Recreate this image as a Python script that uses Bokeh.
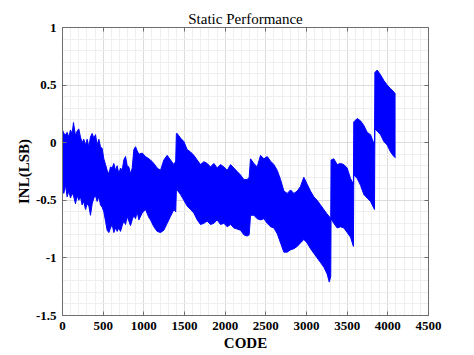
from bokeh.plotting import figure
from bokeh.models import FixedTicker, LinearAxis, Range1d
from bokeh.embed import file_html
from bokeh.resources import INLINE

# ---- data (upper / lower envelope of the INL trace) ----
codes = [0, 16, 37, 57, 78, 98, 119, 135, 160, 180, 200, 221, 241, 262, 283, 303,
         324, 344, 365, 385, 406, 426, 447, 467, 488, 508, 529, 549, 570, 590, 611,
         631, 652, 672, 693, 713, 734, 754, 775, 795, 816, 836, 857, 877, 898, 918, 939,
         980, 1021, 1062, 1082, 1123, 1164, 1205, 1246, 1287, 1328, 1369, 1392,
         1400, 1410, 1451, 1492, 1533, 1574, 1615, 1656, 1697, 1738, 1779, 1820,
         1861, 1902, 1943, 1984, 2025, 2066, 2107, 2148, 2189, 2230, 2271, 2295,
         2312, 2353, 2394, 2435, 2476, 2517, 2558, 2599, 2640, 2681, 2722, 2763,
         2804, 2845, 2886, 2926, 2967, 3008, 3049, 3090, 3131, 3172, 3213, 3254,
         3280, 3298,
         3302, 3336, 3377, 3418, 3459, 3500, 3541, 3577,
         3581, 3623, 3664, 3705, 3746, 3787, 3836,
         3841, 3869, 3910, 3951, 3992, 4033, 4074, 4095]
inl_upper = [0.11, 0.08, 0.07, 0.09, 0.05, 0.11, 0.08, 0.175, 0.06, 0.10, 0.12, 0.05, 0.00, 0.03, -0.02, 0.03,
             -0.035, 0.05, 0.08, 0.04, 0.07, -0.02, 0.03, -0.035, -0.05, -0.14, -0.19, -0.24, -0.27, -0.21, -0.22,
             -0.18, -0.24, -0.20, -0.27, -0.22, -0.24, -0.15, -0.12, -0.20, -0.21, -0.27, -0.22, -0.06, -0.035, -0.07, -0.10,
             -0.09, -0.12, -0.14, -0.15, -0.18, -0.22, -0.24, -0.15, -0.11, -0.15, -0.19, -0.16,
             0.08, 0.08, 0.04, 0.01, -0.06, -0.08, -0.11, -0.15, -0.19, -0.165, -0.18, -0.21,
             -0.18, -0.22, -0.19, -0.21, -0.24, -0.19, -0.22, -0.25, -0.28, -0.32, -0.32, -0.30,
             -0.14, -0.18, -0.21, -0.11, -0.14, -0.12, -0.16, -0.19, -0.24, -0.32, -0.42, -0.44,
             -0.41, -0.44, -0.42, -0.38, -0.30, -0.36, -0.42, -0.47, -0.50, -0.54, -0.58, -0.62,
             -0.64, -0.66,
             -0.15, -0.14, -0.19, -0.18, -0.19, -0.22, -0.31, -0.36,
             0.18, 0.21, 0.19, 0.15, 0.09, 0.07, -0.02,
             0.61, 0.63, 0.59, 0.54, 0.50, 0.47, 0.44, 0.42]
inl_lower = [-0.40, -0.44, -0.37, -0.47, -0.42, -0.48, -0.44, -0.46, -0.53, -0.46, -0.50, -0.47, -0.54, -0.51, -0.58, -0.53,
             -0.55, -0.63, -0.53, -0.48, -0.46, -0.51, -0.47, -0.54, -0.56, -0.60, -0.68, -0.76, -0.78, -0.74, -0.71,
             -0.78, -0.74, -0.77, -0.74, -0.77, -0.72, -0.68, -0.71, -0.64, -0.68, -0.72, -0.67, -0.63, -0.66, -0.60, -0.67,
             -0.61, -0.58, -0.65, -0.67, -0.73, -0.77, -0.78, -0.76, -0.70, -0.64, -0.58, -0.60,
             -0.42, -0.41, -0.45, -0.50, -0.55, -0.58, -0.61, -0.67, -0.71, -0.70, -0.68, -0.71,
             -0.70, -0.67, -0.71, -0.70, -0.73, -0.71, -0.74, -0.75, -0.76, -0.80, -0.81, -0.80,
             -0.63, -0.63, -0.66, -0.67, -0.66, -0.70, -0.73, -0.74, -0.79, -0.87, -0.95, -0.95,
             -0.93, -0.92, -0.90, -0.87, -0.84, -0.87, -0.92, -0.96, -1.00, -1.04, -1.08, -1.14,
             -1.21, -1.16,
             -0.66, -0.70, -0.74, -0.73, -0.74, -0.78, -0.82, -0.90,
             -0.28, -0.31, -0.37, -0.45, -0.48, -0.51, -0.58,
             0.12, 0.10, 0.07, 0.01, -0.02, -0.08, -0.12, -0.13]

x_ticks = [0, 500, 1000, 1500, 2000, 2500, 3000, 3500, 4000, 4500]
x_minor = [v for v in range(0, 4501, 100)]
y_ticks = [-1.5, -1.0, -0.5, 0.0, 0.5, 1.0]
y_tick_labels = ["-1.5", "-1", "-0.5", "0", "0.5", "1"]
y_minor = [round(-1.5 + 0.1 * i, 1) for i in range(26)]

SERIF = "Liberation Serif"
BOX = "#6e6e6e"

p = figure(width=474, height=355, output_backend="svg", toolbar_location=None,
           x_range=Range1d(0, 4500), y_range=Range1d(-1.5, 1.0),
           min_border_left=62, min_border_right=46, min_border_top=27, min_border_bottom=40,
           title="Static Performance")
p.background_fill_color = "white"
p.border_fill_color = "white"
p.outline_line_color = BOX

p.title.align = "center"
p.title.text_font = SERIF
p.title.text_font_style = "normal"
p.title.text_font_size = "15px"
p.title.text_color = "#000000"
p.title.standoff = 2

xt = FixedTicker(ticks=x_ticks, minor_ticks=x_minor)
yt = FixedTicker(ticks=y_ticks, minor_ticks=y_minor)

p.xaxis.ticker = xt
p.yaxis.ticker = yt
p.yaxis.major_label_overrides = {t: l for t, l in zip(y_ticks, y_tick_labels)}

for ax in (p.xaxis[0], p.yaxis[0]):
    ax.axis_line_color = BOX
    ax.major_tick_line_color = BOX
    ax.major_tick_in = 4
    ax.major_tick_out = 0
    ax.minor_tick_in = 0
    ax.minor_tick_out = 0
    ax.major_label_text_font = SERIF
    ax.major_label_text_font_style = "bold"
    ax.major_label_text_font_size = "13px"
    ax.major_label_text_color = "#000000"
    ax.axis_label_text_font = SERIF
    ax.axis_label_text_font_style = "bold"
    ax.axis_label_text_font_size = "15px"
    ax.axis_label_text_color = "#000000"

p.xaxis.axis_label = "CODE"
p.yaxis.axis_label = "INL(LSB)"
p.xaxis.major_label_standoff = 6
p.xaxis.axis_label_standoff = 2
p.yaxis.major_label_standoff = 6
p.yaxis.axis_label_standoff = 1

# mirrored box axes with inward ticks on top and right (no labels)
for loc, tk in (("above", xt), ("right", yt)):
    ax = LinearAxis(ticker=tk)
    ax.axis_line_color = BOX
    ax.major_tick_line_color = BOX
    ax.major_tick_in = 4
    ax.major_tick_out = 0
    ax.minor_tick_in = 0
    ax.minor_tick_out = 0
    ax.major_label_text_font_size = "0px"
    ax.major_label_standoff = 0
    p.add_layout(ax, loc)

p.xgrid.ticker = xt
p.ygrid.ticker = yt
for g in (p.xgrid[0], p.ygrid[0]):
    g.grid_line_color = "#dcdcdc"
    g.grid_line_width = 1
    g.minor_grid_line_color = "#efefef"
    g.minor_grid_line_width = 1

p.varea(x=codes, y1=inl_lower, y2=inl_upper, fill_color="#0000FF")
p.line(x=codes, y=inl_upper, line_color="#0000FF", line_width=1)
p.line(x=codes, y=inl_lower, line_color="#0000FF", line_width=1)

open("out.html", "w").write(file_html(p, INLINE))
